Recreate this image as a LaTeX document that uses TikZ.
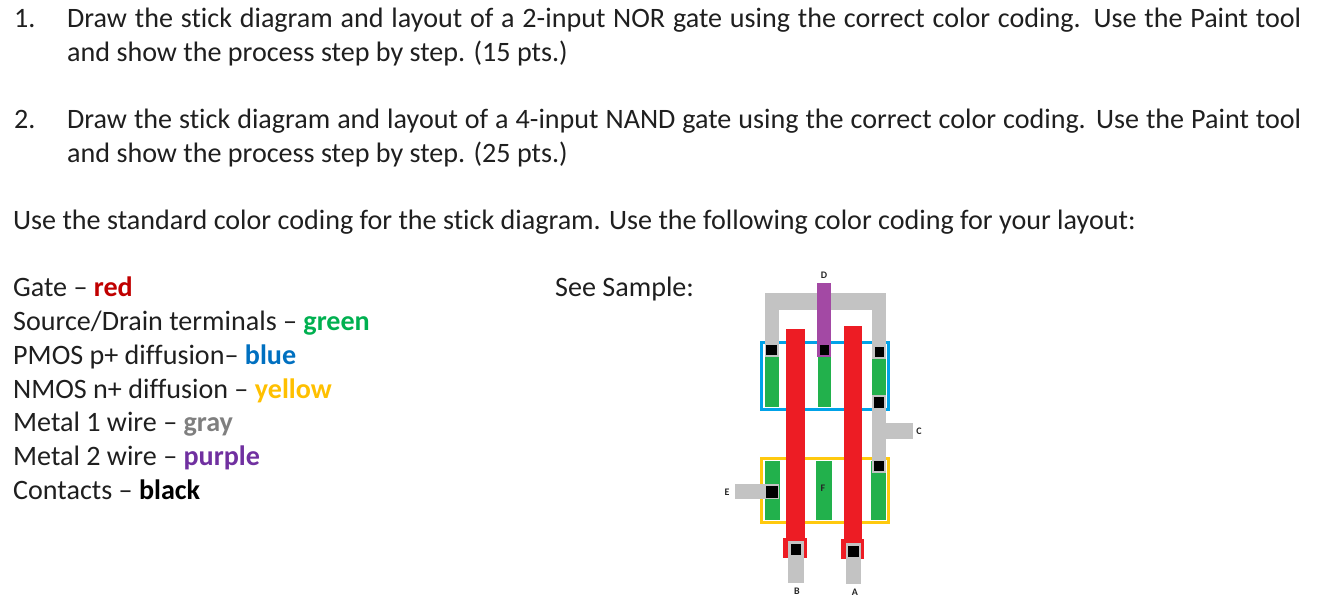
\documentclass[tikz,border=0pt]{standalone}
\usepackage{fontspec}
\setmainfont{Carlito}[Ligatures=NoCommon]
\definecolor{txtred}{HTML}{C00000}
\definecolor{txtgreen}{HTML}{00B050}
\definecolor{txtblue}{HTML}{0070C0}
\definecolor{txtyellow}{HTML}{FFC000}
\definecolor{txtgray}{HTML}{7F7F7F}
\definecolor{txtpurple}{HTML}{7030A0}
\definecolor{gatered}{HTML}{ED1C24}
\definecolor{termgreen}{HTML}{22B14C}
\definecolor{pblue}{HTML}{00A2E8}
\definecolor{nyellow}{HTML}{FFC90E}
\definecolor{metalgray}{HTML}{C3C3C3}
\definecolor{viapurple}{HTML}{A349A4}
\tikzset{
  txt/.style={anchor=base west,inner sep=0pt,font=\fontsize{28.1}{34}\selectfont,text=black!88},
  pin/.style={inner sep=0pt,font=\fontsize{10}{10}\selectfont\bfseries,text=black!85},
  gate/.style={fill=gatered},
  term/.style={fill=termgreen},
  metal/.style={fill=metalgray},
  contact/.style={fill=black}
}
\begin{document}
\begin{tikzpicture}[x=1pt,y=-1pt]
\useasboundingbox (0,0) rectangle (1324,603);
% questions
\node[txt] (n1) at (14,27) {1.};
\node[txt] (q1a) at (67,27) {\makebox[1234pt][s]{Draw the stick diagram and layout of a 2-input NOR gate using the correct color coding. Use the Paint tool}};
\node[txt] (q1b) at (67,61) {and show the process step by step. (15 pts.)};
\node[txt] (n2) at (14,128) {2.};
\node[txt] (q2a) at (67,128) {\makebox[1234pt][s]{Draw the stick diagram and layout of a 4-input NAND gate using the correct color coding. Use the Paint tool}};
\node[txt] (q2b) at (67,162) {and show the process step by step. (25 pts.)};
\node[txt] (intro) at (13,229) {Use the standard color coding for the stick diagram. Use the following color coding for your layout:};
% color list
\node[txt] (l1) at (13,296) {Gate – \textcolor{txtred}{\textbf{red}}};
\node[txt] (l2) at (13,330) {Source/Drain terminals – \textcolor{txtgreen}{\textbf{green}}};
\node[txt] (l3) at (13,364) {PMOS p+ diffusion– \textcolor{txtblue}{\textbf{blue}}};
\node[txt] (l4) at (13,398) {NMOS n+ diffusion – \textcolor{txtyellow}{\textbf{yellow}}};
\node[txt] (l5) at (13,431) {Metal 1 wire – \textcolor{txtgray}{\textbf{gray}}};
\node[txt] (l6) at (13,465) {Metal 2 wire – \textcolor{txtpurple}{\textbf{purple}}};
\node[txt] (l7) at (13,499) {Contacts – \textcolor{black}{\textbf{black}}};
\node[txt] (see) at (555,296) {See Sample:};
% diffusion
\draw[pblue,line width=3pt] (761.5,342.5) rectangle (888.5,409.5);
\draw[nyellow,line width=3pt] (761.5,458.5) rectangle (888.5,522.5);
% terminals
\fill[term] (765,357) rectangle (779,407);
\fill[term] (818,357) rectangle (831,407);
\fill[term] (872,359) rectangle (886,395);
\fill[term] (765,461) rectangle (780,520);
\fill[term] (816,461) rectangle (832,520);
\fill[term] (871,461) rectangle (886,520);
% metal 1
\fill[metal] (765,293) rectangle (886,310);
\fill[metal] (765,310) rectangle (779,357);
\fill[metal] (872,310) rectangle (886,359);
\fill[metal] (872,395) rectangle (886,473);
\fill[metal] (886,423) rectangle (913,439);
\fill[metal] (735,484) rectangle (779,499);
% gates
\fill[gate] (786,329) rectangle (805,538);
\fill[gate] (844,326) rectangle (862,540);
\fill[gate] (783,538) rectangle (807,558);
\fill[gate] (841,539) rectangle (864,559);
\fill[metal] (788,541) rectangle (804,583);
\fill[metal] (846,543) rectangle (861,584);
% metal 2
\fill[viapurple] (817,283) rectangle (831,357);
% contacts
\fill[contact] (766,345) rectangle (777,355);
\fill[contact] (820,345) rectangle (829,355);
\fill[contact] (875,347) rectangle (884,357);
\fill[contact] (874,397) rectangle (884,408);
\fill[contact] (874,461) rectangle (884,471);
\fill[contact] (766,486) rectangle (778,498);
\fill[contact] (791,544) rectangle (801,555);
\fill[contact] (848,546) rectangle (859,557);
% pin names
\node[pin] (pinD) at (824,275) {D};
\node[pin] (pinC) at (919,431) {C};
\node[pin] (pinE) at (727,492) {E};
\node[pin] (pinF) at (823,488) {F};
\node[pin] (pinB) at (797,591) {B};
\node[pin] (pinA) at (855,592) {A};
\end{tikzpicture}
\end{document}
